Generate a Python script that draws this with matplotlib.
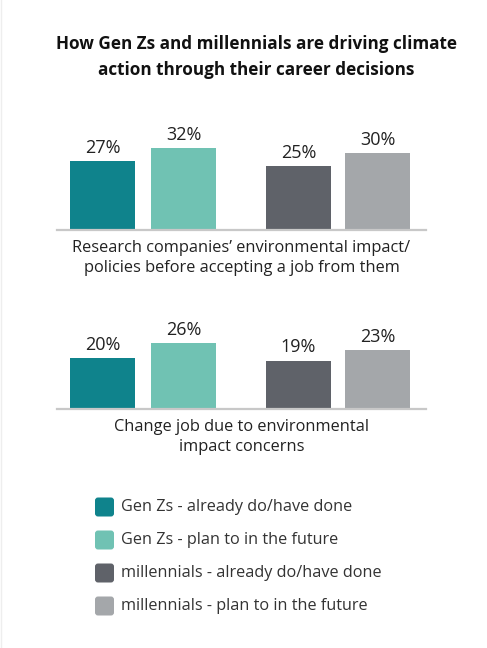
import matplotlib.pyplot as plt
from matplotlib.patches import FancyBboxPatch

plt.rcParams['font.family'] = ['Open Sans', 'DejaVu Sans']

# Data
series = ["Gen Zs - already do/have done", "Gen Zs - plan to in the future",
          "millennials - already do/have done", "millennials - plan to in the future"]
colors = ["#0F838C", "#70C2B3", "#5F6269", "#A4A7AA"]
research_vals = [27, 32, 25, 30]
change_vals = [20, 26, 19, 23]
panel_labels = ["Research companies\u2019 environmental impact/\npolicies before accepting a job from them",
                "Change job due to environmental\nimpact concerns"]
title = "How Gen Zs and millennials are driving climate\naction through their career decisions"

W, H = 487, 648
fig = plt.figure(figsize=(W / 100, H / 100), dpi=100)
fig.patch.set_facecolor("white")

xpos = [0, 1, 2.42, 3.4]

def px_axes(left, top, right, bottom):
    return fig.add_axes([left / W, 1 - bottom / H, (right - left) / W, (bottom - top) / H])

def draw_panel(ax, vals):
    ax.bar(xpos, vals, width=0.8, color=colors)
    for x, v in zip(xpos, vals):
        ax.text(x, v + 1.6, f"{v}%", ha="center", va="bottom", fontsize=13, color="#222222")
    ax.set_xlim(-0.562, 3.994)
    ax.set_ylim(0, 39.2)
    for s in ["top", "right", "left"]:
        ax.spines[s].set_visible(False)
    ax.spines["bottom"].set_color("#C8C8C8")
    ax.spines["bottom"].set_linewidth(1.6)
    ax.set_xticks([])
    ax.set_yticks([])
    ax.patch.set_alpha(0)

ax1 = px_axes(57, 130, 426, 230)
draw_panel(ax1, research_vals)
ax2 = px_axes(57, 309, 426, 409)
draw_panel(ax2, change_vals)

# overlay in pixel coordinates for text and legend
ov = fig.add_axes([0, 0, 1, 1])
ov.set_xlim(0, W)
ov.set_ylim(H, 0)
ov.axis("off")
ov.patch.set_alpha(0)

ov.text(256, 57, title, ha="center", va="center", fontsize=12.3, fontweight="bold",
        color="#111111", linespacing=1.55)
ov.text(241.5, 258, panel_labels[0], ha="center", va="center", fontsize=11.8,
        color="#222222", linespacing=1.38)
ov.text(241.5, 437, panel_labels[1], ha="center", va="center", fontsize=11.8,
        color="#222222", linespacing=1.38)

for i, (lab, c) in enumerate(zip(series, colors)):
    yc = 507 + i * 33
    ov.add_patch(FancyBboxPatch((96, yc - 8.5), 17, 17, boxstyle="round,pad=1,rounding_size=3",
                                facecolor=c, edgecolor="none"))
    ov.text(121, yc, lab, ha="left", va="center", fontsize=11.7, color="#333333")

ov.plot([0.5, 0.5], [0, H], color="#EEEEEE", lw=1)

fig.savefig("out.png", dpi=100, facecolor="white")
